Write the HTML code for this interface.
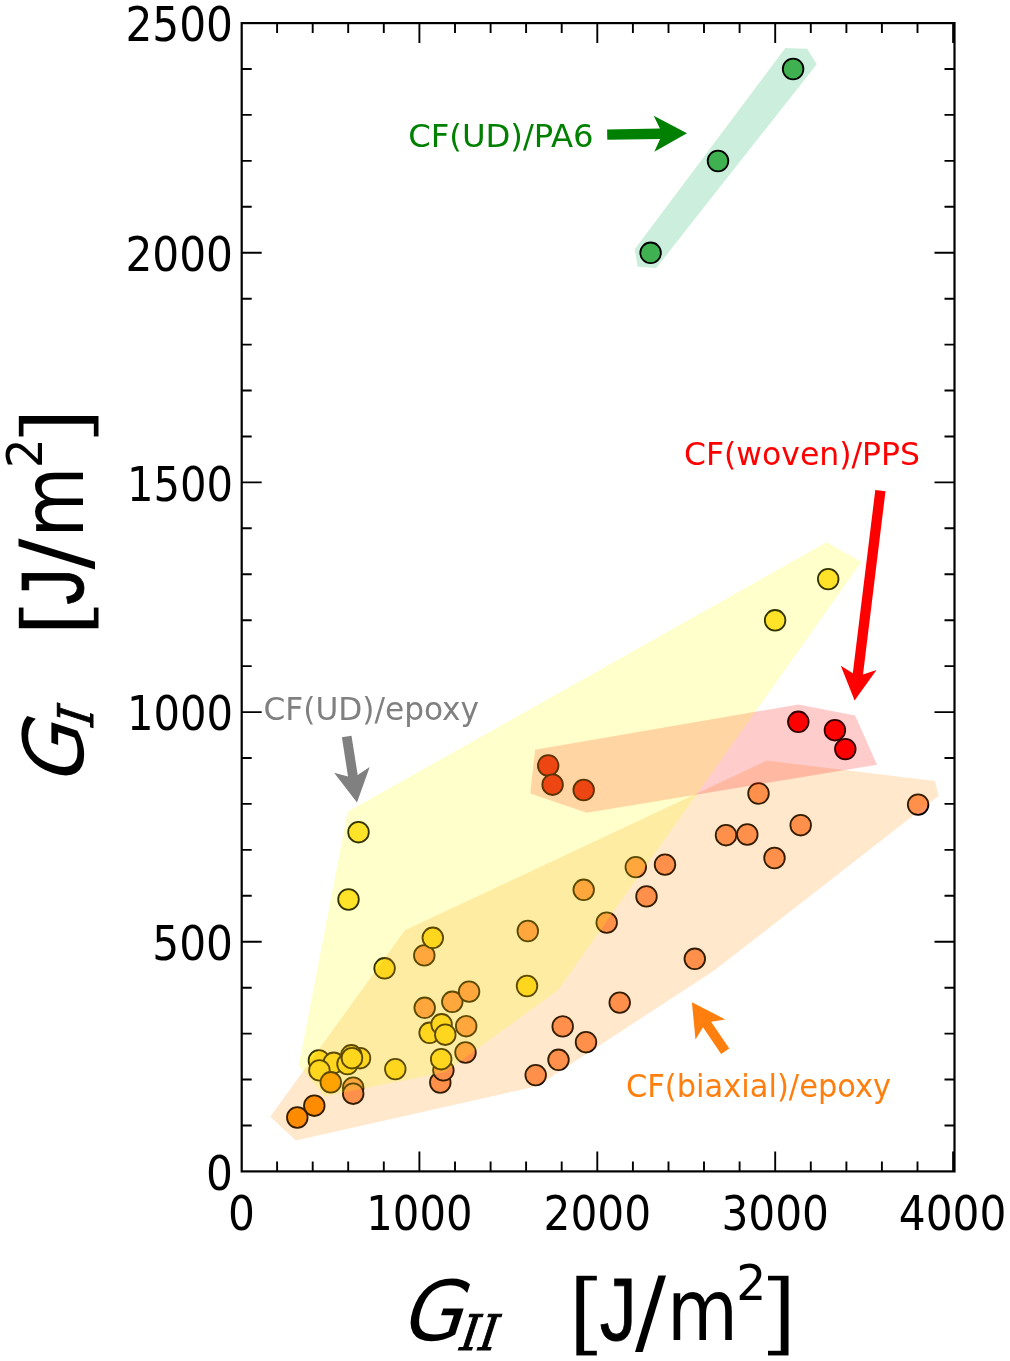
<!DOCTYPE html>
<html lang="en">
<head>
<meta charset="utf-8">
<title>GI vs GII fracture toughness</title>
<style>
html,body{margin:0;padding:0;background:#fff;}
body{width:1010px;height:1361px;overflow:hidden;}
svg{display:block;}
.tk{font-family:"DejaVu Sans Condensed","DejaVu Sans","Liberation Sans",sans-serif;font-size:48.2px;fill:#000;}
.lb{font-family:"DejaVu Sans Condensed","DejaVu Sans","Liberation Sans",sans-serif;font-size:32.5px;}
.c{stroke:#000;stroke-width:1.8;}
</style>
</head>
<body>
<svg width="1010" height="1361" viewBox="0 0 1010 1361">
<rect x="0" y="0" width="1010" height="1361" fill="#ffffff"/>
<g class="c">
<circle cx="353.2" cy="1087.7" r="10.3" fill="#FF9260"/>
<circle cx="353.2" cy="1093.7" r="10.3" fill="#FF9260"/>
<circle cx="440.3" cy="1082.5" r="10.3" fill="#FF9260"/>
<circle cx="443.4" cy="1070.3" r="10.3" fill="#FF9260"/>
<circle cx="465.5" cy="1052.5" r="10.3" fill="#FF9260"/>
<circle cx="466.2" cy="1026.2" r="10.3" fill="#FF9260"/>
<circle cx="424.3" cy="955.4" r="10.3" fill="#FF9260"/>
<circle cx="527.8" cy="931.0" r="10.3" fill="#FF9260"/>
<circle cx="583.7" cy="889.8" r="10.3" fill="#FF9260"/>
<circle cx="635.8" cy="867.1" r="10.3" fill="#FF9260"/>
<circle cx="606.7" cy="922.6" r="10.3" fill="#FF9260"/>
<circle cx="424.7" cy="1007.8" r="10.3" fill="#FF9260"/>
<circle cx="452.3" cy="1001.8" r="10.3" fill="#FF9260"/>
<circle cx="469.1" cy="991.6" r="10.3" fill="#FF9260"/>
<circle cx="665.0" cy="864.6" r="10.3" fill="#FF9260"/>
<circle cx="646.5" cy="896.4" r="10.3" fill="#FF9260"/>
<circle cx="694.8" cy="958.8" r="10.3" fill="#FF9260"/>
<circle cx="619.7" cy="1002.6" r="10.3" fill="#FF9260"/>
<circle cx="562.7" cy="1026.4" r="10.3" fill="#FF9260"/>
<circle cx="586.0" cy="1042.2" r="10.3" fill="#FF9260"/>
<circle cx="558.5" cy="1059.8" r="10.3" fill="#FF9260"/>
<circle cx="535.7" cy="1075.1" r="10.3" fill="#FF9260"/>
<circle cx="726.0" cy="835.2" r="10.3" fill="#FF9260"/>
<circle cx="747.3" cy="834.5" r="10.3" fill="#FF9260"/>
<circle cx="758.5" cy="793.5" r="10.3" fill="#FF9260"/>
<circle cx="800.7" cy="825.2" r="10.3" fill="#FF9260"/>
<circle cx="774.5" cy="858.0" r="10.3" fill="#FF9260"/>
<circle cx="918.1" cy="804.6" r="10.3" fill="#FF9260"/>
<circle cx="548.2" cy="765.5" r="10.3" fill="#E41E1F"/>
<circle cx="552.6" cy="784.7" r="10.3" fill="#E41E1F"/>
<circle cx="583.7" cy="790.0" r="10.3" fill="#E41E1F"/>
<circle cx="798.3" cy="721.8" r="10.3" fill="#FF0000"/>
<circle cx="834.9" cy="730.2" r="10.3" fill="#FF0000"/>
<circle cx="845.3" cy="749.1" r="10.3" fill="#FF0000"/>
<circle cx="828.2" cy="579.1" r="10.3" fill="#FFDD32"/>
<circle cx="775.1" cy="620.3" r="10.3" fill="#FFDD32"/>
<circle cx="358.5" cy="832.2" r="10.3" fill="#FFDD32"/>
<circle cx="348.5" cy="899.5" r="10.3" fill="#FFDD32"/>
<circle cx="432.8" cy="937.8" r="10.3" fill="#FFDD30"/>
<circle cx="384.6" cy="968.3" r="10.3" fill="#FFDD30"/>
<circle cx="527.0" cy="986.0" r="10.3" fill="#FFDD30"/>
<circle cx="429.6" cy="1032.8" r="10.3" fill="#FFDD30"/>
<circle cx="441.6" cy="1024.3" r="10.3" fill="#FFDD30"/>
<circle cx="445.3" cy="1034.7" r="10.3" fill="#FFDD30"/>
<circle cx="441.2" cy="1059.2" r="10.3" fill="#FFDD30"/>
<circle cx="395.3" cy="1069.1" r="10.3" fill="#FFDD30"/>
<circle cx="318.9" cy="1060.4" r="10.3" fill="#FFDD30"/>
<circle cx="333.7" cy="1062.8" r="10.3" fill="#FFDD30"/>
<circle cx="319.4" cy="1070.4" r="10.3" fill="#FFDD30"/>
<circle cx="347.5" cy="1064.0" r="10.3" fill="#FFDD30"/>
<circle cx="360.0" cy="1058.2" r="10.3" fill="#FFDD30"/>
<circle cx="351.3" cy="1055.3" r="10.3" fill="#FFDD30"/>
<circle cx="352.0" cy="1058.2" r="10.3" fill="#FFDD30"/>
<circle cx="297.3" cy="1117.5" r="10.3" fill="#FF8C00"/>
<circle cx="314.3" cy="1105.7" r="10.3" fill="#FF8C00"/>
<circle cx="330.8" cy="1082.3" r="10.3" fill="#FF8C00"/>
</g>
<polygon points="270.2,1116.7 404.8,930.3 766.8,760.6 935,781 938.6,795.8 715,970 537,1086.2 295.9,1140.5" fill="#FF8C00" fill-opacity="0.2"/>
<polygon points="535,749.8 798.3,704.4 855.1,715.6 877,764.7 586.7,812.8 530.3,793.6" fill="#FF0000" fill-opacity="0.2"/>
<polygon points="347.6,811.8 826.5,542.2 861.3,562.1 557.8,990.3 445,1072.3 324.5,1096.3 298.8,1065.3" fill="#FFFF00" fill-opacity="0.2"/>
<polygon points="785.3,48 807.2,48.8 816.7,64.2 656.1,268.1 637.6,266.8 634.7,249.3" fill="#2FBF73" fill-opacity="0.25"/>
<g class="c">
<circle cx="793.1" cy="69.0" r="10.3" fill="#40B150"/>
<circle cx="718.0" cy="161.0" r="10.3" fill="#40B150"/>
<circle cx="650.6" cy="252.8" r="10.3" fill="#40B150"/>
</g>
<rect x="241.7" y="23.1" width="712.8" height="1148.3" fill="none" stroke="#000" stroke-width="2.2"/>
<path d="M277.1,1171.4v-10M277.1,23.1v10M312.7,1171.4v-10M312.7,23.1v10M348.2,1171.4v-10M348.2,23.1v10M383.8,1171.4v-10M383.8,23.1v10M419.4,1171.4v-20M419.4,23.1v20M455.0,1171.4v-10M455.0,23.1v10M490.6,1171.4v-10M490.6,23.1v10M526.1,1171.4v-10M526.1,23.1v10M561.7,1171.4v-10M561.7,23.1v10M597.3,1171.4v-20M597.3,23.1v20M632.9,1171.4v-10M632.9,23.1v10M668.5,1171.4v-10M668.5,23.1v10M704.0,1171.4v-10M704.0,23.1v10M739.6,1171.4v-10M739.6,23.1v10M775.2,1171.4v-20M775.2,23.1v20M810.8,1171.4v-10M810.8,23.1v10M846.4,1171.4v-10M846.4,23.1v10M881.9,1171.4v-10M881.9,23.1v10M917.5,1171.4v-10M917.5,23.1v10M953.1,1171.4v-20M953.1,23.1v20M241.7,1125.5h10M954.5,1125.5h-10M241.7,1079.5h10M954.5,1079.5h-10M241.7,1033.6h10M954.5,1033.6h-10M241.7,987.7h10M954.5,987.7h-10M241.7,941.7h20M954.5,941.7h-20M241.7,895.8h10M954.5,895.8h-10M241.7,849.9h10M954.5,849.9h-10M241.7,803.9h10M954.5,803.9h-10M241.7,758.0h10M954.5,758.0h-10M241.7,712.1h20M954.5,712.1h-20M241.7,666.1h10M954.5,666.1h-10M241.7,620.2h10M954.5,620.2h-10M241.7,574.3h10M954.5,574.3h-10M241.7,528.3h10M954.5,528.3h-10M241.7,482.4h20M954.5,482.4h-20M241.7,436.5h10M954.5,436.5h-10M241.7,390.5h10M954.5,390.5h-10M241.7,344.6h10M954.5,344.6h-10M241.7,298.7h10M954.5,298.7h-10M241.7,252.7h20M954.5,252.7h-20M241.7,206.8h10M954.5,206.8h-10M241.7,160.9h10M954.5,160.9h-10M241.7,114.9h10M954.5,114.9h-10M241.7,69.0h10M954.5,69.0h-10" stroke="#000" stroke-width="1.9" fill="none"/>
<text class="tk" x="241.5" y="1230.3" text-anchor="middle" textLength="26.9" lengthAdjust="spacingAndGlyphs">0</text>
<text class="tk" x="419.4" y="1230.3" text-anchor="middle" textLength="106.1" lengthAdjust="spacingAndGlyphs">1000</text>
<text class="tk" x="597.3" y="1230.3" text-anchor="middle" textLength="107.6" lengthAdjust="spacingAndGlyphs">2000</text>
<text class="tk" x="775.2" y="1230.3" text-anchor="middle" textLength="107.6" lengthAdjust="spacingAndGlyphs">3000</text>
<text class="tk" x="952.6" y="1230.3" text-anchor="middle" textLength="107.6" lengthAdjust="spacingAndGlyphs">4000</text>
<text class="tk" x="233" y="1189.6" text-anchor="end" textLength="26.9" lengthAdjust="spacingAndGlyphs">0</text>
<text class="tk" x="233" y="959.9" text-anchor="end" textLength="80.7" lengthAdjust="spacingAndGlyphs">500</text>
<text class="tk" x="233" y="730.3" text-anchor="end" textLength="106.1" lengthAdjust="spacingAndGlyphs">1000</text>
<text class="tk" x="233" y="500.6" text-anchor="end" textLength="106.1" lengthAdjust="spacingAndGlyphs">1500</text>
<text class="tk" x="233" y="270.9" text-anchor="end" textLength="107.6" lengthAdjust="spacingAndGlyphs">2000</text>
<text class="tk" x="233" y="41.2" text-anchor="end" textLength="107.6" lengthAdjust="spacingAndGlyphs">2500</text>
<text class="lb" x="408.2" y="146.6" fill="#008000" textLength="185.4" lengthAdjust="spacingAndGlyphs">CF(UD)/PA6</text>
<text class="lb" x="684" y="465.3" fill="#FF0000" textLength="236" lengthAdjust="spacingAndGlyphs">CF(woven)/PPS</text>
<text class="lb" x="263.5" y="719.9" fill="#808080" textLength="215.5" lengthAdjust="spacingAndGlyphs">CF(UD)/epoxy</text>
<text class="lb" x="626" y="1096.6" fill="#FF7F0E" textLength="265" lengthAdjust="spacingAndGlyphs">CF(biaxial)/epoxy</text>
<polygon points="607.3,139.8 660.1,139.0 654.3,151.8 687.0,133.3 653.7,115.8 659.9,128.5 607.1,129.4" fill="#008000"/>
<polygon points="875.3,490.0 852.8,673.2 840.8,665.7 854.6,700.6 876.5,670.0 863.0,674.4 885.5,491.2" fill="#FF0000"/>
<polygon points="341.9,737.3 348.0,776.6 334.1,772.7 357.0,802.5 369.7,767.1 357.7,775.1 351.5,735.7" fill="#808080"/>
<polygon points="729.3,1048.5 711.1,1021.8 725.3,1019.4 691.9,1002.2 695.5,1039.6 703.0,1027.3 721.1,1054.1" fill="#FF7F0E"/>
<g transform="translate(0,1340.3)">
<g transform="translate(398.8,0) skewX(-18) scale(0.95,1)"><text x="0" y="0" font-family="'DejaVu Sans','Liberation Sans',sans-serif" font-size="83">G</text></g>
<g transform="translate(455.8,9.8) skewX(-18) scale(0.95,1)"><text x="0 19.68" y="0" font-family="'DejaVu Serif','Liberation Serif',serif" font-size="49" stroke="#000" stroke-width="1">II</text></g>
<text fill="#000"><tspan x="566.0" y="3.8" font-family="'DejaVu Sans','Liberation Sans',sans-serif" font-size="90.6" textLength="42.4" stroke="#fff" stroke-width="1.6" lengthAdjust="spacingAndGlyphs">[</tspan><tspan x="599.8" y="0" font-family="'Liberation Sans',sans-serif" font-size="89" stroke="#000" stroke-width="0.8" textLength="36.9" lengthAdjust="spacingAndGlyphs">J</tspan><tspan x="635" y="2.7" font-family="'DejaVu Sans','Liberation Sans',sans-serif" font-size="92">/</tspan><tspan x="667" y="0" font-family="'DejaVu Sans Condensed','DejaVu Sans','Liberation Sans',sans-serif" font-size="85.5" textLength="71" lengthAdjust="spacingAndGlyphs">m</tspan><tspan x="736.3" y="-40.6" font-family="'DejaVu Sans Condensed','DejaVu Sans','Liberation Sans',sans-serif" font-size="50" textLength="30" lengthAdjust="spacingAndGlyphs">2</tspan><tspan x="756.4" y="3.8" font-family="'DejaVu Sans','Liberation Sans',sans-serif" font-size="90.6" textLength="42.4" stroke="#fff" stroke-width="1.6" lengthAdjust="spacingAndGlyphs">]</tspan></text>
</g>
<g transform="translate(82.9,1186) rotate(-90)">
<g transform="translate(398.8,0) skewX(-18) scale(0.95,1)"><text x="0" y="0" font-family="'DejaVu Sans','Liberation Sans',sans-serif" font-size="83">G</text></g>
<g transform="translate(455.8,9.8) skewX(-18) scale(0.95,1)"><text x="0" y="0" font-family="'DejaVu Serif','Liberation Serif',serif" font-size="49" stroke="#000" stroke-width="1">I</text></g>
</g>
<g transform="translate(82.9,1204.5) rotate(-90)">
<text fill="#000"><tspan x="566.0" y="3.8" font-family="'DejaVu Sans','Liberation Sans',sans-serif" font-size="90.6" textLength="42.4" stroke="#fff" stroke-width="1.6" lengthAdjust="spacingAndGlyphs">[</tspan><tspan x="599.8" y="0" font-family="'Liberation Sans',sans-serif" font-size="89" stroke="#000" stroke-width="0.8" textLength="36.9" lengthAdjust="spacingAndGlyphs">J</tspan><tspan x="635" y="2.7" font-family="'DejaVu Sans','Liberation Sans',sans-serif" font-size="92">/</tspan><tspan x="667" y="0" font-family="'DejaVu Sans Condensed','DejaVu Sans','Liberation Sans',sans-serif" font-size="85.5" textLength="71" lengthAdjust="spacingAndGlyphs">m</tspan><tspan x="736.3" y="-40.6" font-family="'DejaVu Sans Condensed','DejaVu Sans','Liberation Sans',sans-serif" font-size="50" textLength="30" lengthAdjust="spacingAndGlyphs">2</tspan><tspan x="756.4" y="3.8" font-family="'DejaVu Sans','Liberation Sans',sans-serif" font-size="90.6" textLength="42.4" stroke="#fff" stroke-width="1.6" lengthAdjust="spacingAndGlyphs">]</tspan></text>
</g>
</svg>
</body>
</html>
